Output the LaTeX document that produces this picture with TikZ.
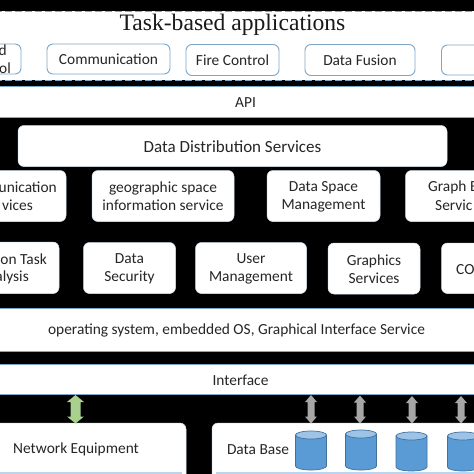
\documentclass[tikz,border=0pt]{standalone}
\usepackage{fontspec}
\setmainfont{Carlito}
\newfontfamily\titlefont{Liberation Serif}
\definecolor{edgeblue}{HTML}{7EA6C8}
\definecolor{svcedge}{HTML}{D5E4F2}
\definecolor{cylblue}{HTML}{5B9BD5}
\definecolor{cyltop}{HTML}{9DC3E6}
\definecolor{cyledge}{HTML}{41719C}
\definecolor{greenar}{HTML}{A9D18E}
\definecolor{greyar}{HTML}{A6A6A6}
\tikzset{
  x=1pt,y=-1pt,
  band/.style={fill=white,draw=edgeblue,line width=0.8pt},
  dashline/.style={edgeblue,line width=1pt,dash pattern=on 7pt off 3pt},
  appbox/.style={fill=white,draw=edgeblue,line width=0.9pt,rounded corners=6pt,inner sep=0pt},
  svcbox/.style={fill=white,draw=svcedge,line width=0.5pt,rounded corners=6pt,inner sep=0pt},
  lab/.style={font=\fontsize{15.4}{18}\selectfont,align=center,inner sep=0pt,text=black!85,yshift=-0.7pt},
}
\newcommand{\vdarrow}[6]{% x, y1, y2, head half, shaft half, colour
  \fill[#6] (#1,#2) -- (#1-#4,#2+7) -- (#1-#5,#2+7) -- (#1-#5,#3-7) -- (#1-#4,#3-7) -- (#1,#3) -- (#1+#4,#3-7) -- (#1+#5,#3-7) -- (#1+#5,#2+7) -- (#1+#4,#2+7) -- cycle;}
\newcommand{\cyl}[3]{% x centre, top y, bottom y
  \draw[fill=cylblue,draw=cyledge,line width=0.7pt] (#1-15.5,#2) -- (#1-15.5,#3-3) arc[start angle=180,end angle=360,x radius=15.5,y radius=-4] -- (#1+15.5,#2) -- cycle;
  \draw[fill=cyltop,draw=cyledge,line width=0.7pt] (#1,#2) ellipse[x radius=15.5,y radius=4];}
\begin{document}
\begin{tikzpicture}
\useasboundingbox (0,0) rectangle (474,474);
\clip (0,0) rectangle (474,474);
\fill[black] (0,0) rectangle (474,474);
% top band
\fill[white] (-5,11) rectangle (480,80);
\draw[dashline] (-5,11) -- (480,11);
\draw[dashline] (-5,80) -- (480,80);
\node[font=\titlefont\fontsize{23.6}{26}\selectfont,inner sep=0pt,text=black!90] (title) at (232.5,25) {Task-based applications};
% application boxes
\draw[appbox] (-30,44) rectangle (21,74);
\node[lab,anchor=east] (a1a) at (7,50) {d};
\node[lab,anchor=east] (a1b) at (11,68) {ol};
\node[appbox,minimum width=123pt,minimum height=30pt] (a2) at (108.5,59) {};
\node[lab] (a2t) at (a2) {Communication};
\node[appbox,minimum width=93pt,minimum height=31pt] (a3) at (232.5,60) {};
\node[lab] (a3t) at (a3) {Fire Control};
\node[appbox,minimum width=110pt,minimum height=31pt] (a4) at (360,60) {};
\node[lab] (a4t) at (a4) {Data Fusion};
\draw[appbox] (441.5,45) rectangle (510,75);
% API
\draw[band] (-5,86.5) rectangle (480,117);
\node[lab] (api) at (245.5,102) {API};
% DDS
\node[svcbox,minimum width=429pt,minimum height=41pt] (dds) at (232.5,146) {};
\node[lab,font=\fontsize{17}{20}\selectfont] (ddst) at (dds) {Data Distribution Services};
% row 2
\draw[svcbox] (-40,170.5) rectangle (66,221.5);
\node[lab,anchor=east] (s1a) at (57,187) {unication};
\node[lab,anchor=east] (s1b) at (33,205) {vices};
\node[svcbox,minimum width=142pt,minimum height=51pt] (s2) at (163,196) {};
\node[lab] (s2t) at (s2) {geographic space\\information service};
\node[svcbox,minimum width=113pt,minimum height=51pt] (s3) at (323.5,196) {};
\node[lab] (s3t) at (s3) {Data Space\\Management};
\draw[svcbox] (405.5,170.5) rectangle (510,221.5);
\node[lab,anchor=west] (s4a) at (428,187) {Graph B};
\node[lab,anchor=west] (s4b) at (435,205) {Servic};
% row 3
\draw[svcbox] (-40,242) rectangle (59,293.5);
\node[lab,anchor=east] (t1a) at (47,259) {on Task};
\node[lab,anchor=east] (t1b) at (29,277) {alysis};
\node[svcbox,minimum width=92pt,minimum height=51pt] (t2) at (129.5,268) {};
\node[lab] (t2t) at (t2) {Data\\Security};
\node[svcbox,minimum width=111pt,minimum height=51pt] (t3) at (251,268) {};
\node[lab] (t3t) at (t3) {User\\Management};
\node[svcbox,minimum width=92pt,minimum height=51pt] (t4) at (374,268.5) {};
\node[lab] (t4t) at (t4) {Graphics\\Services};
\draw[svcbox] (441.5,243) rectangle (510,293.5);
\node[lab,anchor=west] (t5) at (456,268.5) {CO};
% OS band
\draw[band] (-5,308) rectangle (480,351);
\node[lab] (os) at (236.5,330) {operating system, embedded OS, Graphical Interface Service};
% Interface
\draw[band] (-5,364) rectangle (480,394.5);
\node[lab] (if) at (240.5,379.5) {Interface};
% bottom boxes
\draw[svcbox] (-40,423) rectangle (186,490);
\node[lab,anchor=west] (ne) at (13,448.5) {Network Equipment};
\draw[svcbox] (212,423) rectangle (510,490);
\node[lab] (db) at (258,448.5) {Data Base};
\fill[cyltop!70!white] (-5,472) rectangle (182,474);
\fill[cyltop!70!white] (216,472) rectangle (480,474);
% arrows
\vdarrow{75.5}{395}{423.5}{8.5}{5}{greenar}
\vdarrow{311}{395}{423.5}{6}{3.5}{greyar}
\vdarrow{360}{395.5}{423.5}{6}{3.5}{greyar}
\vdarrow{412}{396}{423.5}{6}{3.5}{greyar}
\vdarrow{461}{396}{423.5}{6}{3.5}{greyar}
% cylinders
\cyl{311}{435}{469}
\cyl{361}{434}{469}
\cyl{411.5}{436}{470}
\cyl{463}{436}{470}
\end{tikzpicture}
\end{document}
